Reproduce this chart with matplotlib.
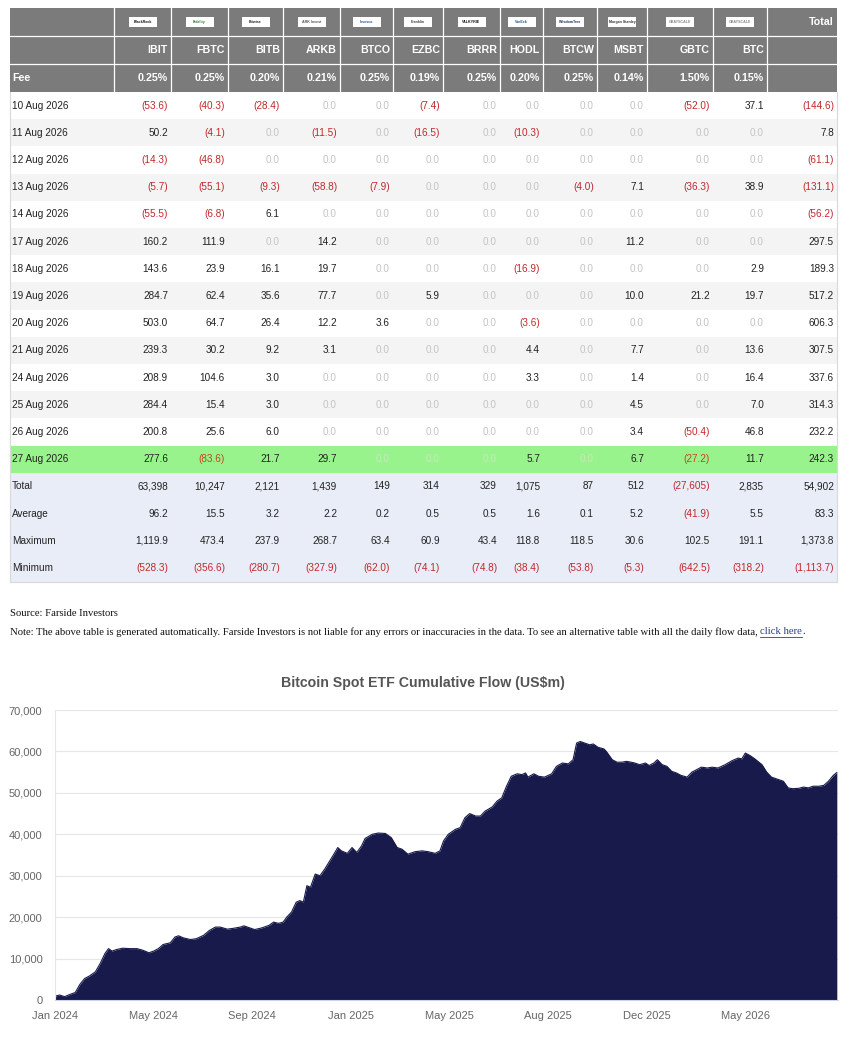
import numpy as np
import matplotlib.pyplot as plt
from matplotlib.patches import Rectangle

plt.rcParams['font.family'] = ['Liberation Sans', 'DejaVu Sans']

# ---- table data ----
tickers = ['IBIT', 'FBTC', 'BITB', 'ARKB', 'BTCO', 'EZBC', 'BRRR',
           'HODL', 'BTCW', 'MSBT', 'GBTC', 'BTC']
issuers = ['BlackRock', 'Fidelity', 'Bitwise', 'ARK Invest', 'Invesco',
           'Franklin', 'VALKYRIE', 'VanEck', 'WisdomTree', 'Morgan Stanley',
           'GRAYSCALE', 'GRAYSCALE']
issuer_colors = ['#111111', '#2a7a3a', '#222222', '#555555', '#2b4fa0',
                 '#444444', '#111111', '#1d4f9a', '#1c2f5a', '#333333',
                 '#888888', '#888888']
fees = ['0.25%', '0.25%', '0.20%', '0.21%', '0.25%', '0.19%', '0.25%',
        '0.20%', '0.25%', '0.14%', '1.50%', '0.15%']

dates = ['10 Aug 2026', '11 Aug 2026', '12 Aug 2026', '13 Aug 2026',
         '14 Aug 2026', '17 Aug 2026', '18 Aug 2026', '19 Aug 2026',
         '20 Aug 2026', '21 Aug 2026', '24 Aug 2026', '25 Aug 2026',
         '26 Aug 2026', '27 Aug 2026']
# one row per date: 12 funds then the total
daily_flows = [
    [-53.6, -40.3, -28.4, 0.0, 0.0, -7.4, 0.0, 0.0, 0.0, 0.0, -52.0, 37.1, -144.6],
    [50.2, -4.1, 0.0, -11.5, 0.0, -16.5, 0.0, -10.3, 0.0, 0.0, 0.0, 0.0, 7.8],
    [-14.3, -46.8, 0.0, 0.0, 0.0, 0.0, 0.0, 0.0, 0.0, 0.0, 0.0, 0.0, -61.1],
    [-5.7, -55.1, -9.3, -58.8, -7.9, 0.0, 0.0, 0.0, -4.0, 7.1, -36.3, 38.9, -131.1],
    [-55.5, -6.8, 6.1, 0.0, 0.0, 0.0, 0.0, 0.0, 0.0, 0.0, 0.0, 0.0, -56.2],
    [160.2, 111.9, 0.0, 14.2, 0.0, 0.0, 0.0, 0.0, 0.0, 11.2, 0.0, 0.0, 297.5],
    [143.6, 23.9, 16.1, 19.7, 0.0, 0.0, 0.0, -16.9, 0.0, 0.0, 0.0, 2.9, 189.3],
    [284.7, 62.4, 35.6, 77.7, 0.0, 5.9, 0.0, 0.0, 0.0, 10.0, 21.2, 19.7, 517.2],
    [503.0, 64.7, 26.4, 12.2, 3.6, 0.0, 0.0, -3.6, 0.0, 0.0, 0.0, 0.0, 606.3],
    [239.3, 30.2, 9.2, 3.1, 0.0, 0.0, 0.0, 4.4, 0.0, 7.7, 0.0, 13.6, 307.5],
    [208.9, 104.6, 3.0, 0.0, 0.0, 0.0, 0.0, 3.3, 0.0, 1.4, 0.0, 16.4, 337.6],
    [284.4, 15.4, 3.0, 0.0, 0.0, 0.0, 0.0, 0.0, 0.0, 4.5, 0.0, 7.0, 314.3],
    [200.8, 25.6, 6.0, 0.0, 0.0, 0.0, 0.0, 0.0, 0.0, 3.4, -50.4, 46.8, 232.2],
    [277.6, -83.6, 21.7, 29.7, 0.0, 0.0, 0.0, 5.7, 0.0, 6.7, -27.2, 11.7, 242.3],
]
highlight_date = '27 Aug 2026'

summary_labels = ['Total', 'Average', 'Maximum', 'Minimum']
summary_decimals = [0, 1, 1, 1]
summary_values = [
    [63398, 10247, 2121, 1439, 149, 314, 329, 1075, 87, 512, -27605, 2835, 54902],
    [96.2, 15.5, 3.2, 2.2, 0.2, 0.5, 0.5, 1.6, 0.1, 5.2, -41.9, 5.5, 83.3],
    [1119.9, 473.4, 237.9, 268.7, 63.4, 60.9, 43.4, 118.8, 118.5, 30.6, 102.5, 191.1, 1373.8],
    [-528.3, -356.6, -280.7, -327.9, -62.0, -74.1, -74.8, -38.4, -53.8, -5.3, -642.5, -318.2, -1113.7],
]

# ---- cumulative flow (trading day index, US$m) ----
cum_day = [0, 1, 4, 8, 13, 17, 21, 25, 29, 34, 38, 42, 45, 48, 52, 57, 63, 69,
           74, 79, 83, 87, 91, 97, 101, 104, 108, 114, 119, 125, 130, 135, 139,
           145, 150, 156, 159, 164, 168, 174, 180, 184, 188, 192, 195, 199, 203,
           206, 209, 212, 215, 219, 223, 227, 233, 238, 241, 246, 250, 254, 258,
           261, 267, 272, 278, 283, 288, 292, 297, 303, 309, 314, 320, 324, 327,
           331, 337, 341, 345, 349, 354, 358, 362, 368, 372, 376, 380, 384, 389,
           393, 396, 398, 403, 407, 412, 418, 422, 427, 432, 436, 439, 442, 446,
           450, 453, 457, 462, 464, 469, 473, 477, 481, 485, 488, 492, 497, 500,
           504, 507, 511, 515, 519, 523, 527, 532, 536, 540, 544, 549, 553, 558,
           564, 570, 575, 578, 581, 585, 589, 595, 599, 603, 609, 613, 617, 621,
           626, 630, 634, 638, 643, 647, 651, 655, 658]
cum_flow = [650, 1000, 1200, 800, 1400, 1800, 3800, 5200, 5800, 6800, 8800, 11200,
            12400, 11800, 12200, 12500, 12400, 12400, 12000, 11400, 11800, 12400,
            13400, 13800, 15200, 15500, 15000, 14600, 14800, 15600, 16800, 17600,
            17600, 17100, 17300, 17600, 17900, 17400, 17000, 17400, 18000, 18800,
            18500, 18800, 20000, 21200, 23600, 24000, 23600, 27600, 27200, 30400,
            30000, 31600, 34400, 36800, 36000, 35400, 36800, 35600, 37200, 39000,
            40000, 40300, 40200, 39200, 36800, 36400, 35200, 35800, 36000, 35800,
            35400, 36000, 38400, 40000, 41200, 41600, 44000, 45000, 44400, 44400,
            45600, 46600, 48000, 48800, 51600, 54000, 54600, 54400, 54800, 53800,
            54600, 54000, 53800, 54600, 56400, 57200, 57000, 58000, 62000, 62400,
            62000, 61600, 61800, 61000, 60600, 60000, 58000, 57400, 57400, 57600,
            57400, 57200, 56800, 57200, 56600, 57200, 58000, 56800, 56400, 55200,
            54800, 54200, 53800, 55000, 55600, 56200, 56000, 56200, 56000, 56800,
            57800, 58400, 58200, 59600, 59000, 58200, 56800, 55000, 53800, 53200,
            52800, 51200, 51000, 51100, 51400, 51200, 51600, 51600, 51800, 52800,
            54200, 54902]
x_tick_labels = ['Jan 2024', 'May 2024', 'Sep 2024', 'Jan 2025', 'May 2025',
                 'Aug 2025', 'Dec 2025', 'May 2026']
label_every = 83  # trading days between x labels


def fmt(v, decimals=1):
    s = f"{abs(v):,.{decimals}f}"
    return f"({s})" if v < 0 else s


fig = plt.figure(figsize=(8.47, 10.38), dpi=100)
tab = fig.add_axes([0, 0, 1, 1])
tab.set_xlim(0, 847)
tab.set_ylim(1038, 0)
tab.axis('off')

col_edges = [10, 114, 171, 228, 283, 340, 393, 443, 500, 543, 597, 647, 713, 767, 837]
head_top, head_h = 8, 28
body_top, row_h = 92, 27.2
fs = 7.2
header_gray = '#7b7b7b'

# header block
tab.add_patch(Rectangle((col_edges[0], head_top), col_edges[-1] - col_edges[0],
                        3 * head_h, color=header_gray, lw=0))
for xe in col_edges[1:-1]:
    tab.plot([xe, xe], [head_top, head_top + 3 * head_h], color='white', lw=0.9)
for k in (1, 2):
    tab.plot([col_edges[0], col_edges[-1]], [head_top + k * head_h] * 2,
             color='white', lw=0.9)

for i, tk in enumerate(tickers):
    left, right = col_edges[i + 1], col_edges[i + 2]
    cx = (left + right) / 2
    # issuer logo box
    tab.add_patch(Rectangle((cx - 14, head_top + 9), 28, 10, color='white', lw=0))
    tab.text(cx, head_top + 14, issuers[i], fontsize=2.6, color=issuer_colors[i],
             ha='center', va='center', fontweight='bold')
    tab.text(right - 3, head_top + 1.5 * head_h, tk, fontsize=7.7, color='white',
             fontweight='bold', ha='right', va='center')
    tab.text(right - 3, head_top + 2.5 * head_h, fees[i], fontsize=7.7,
             color='white', fontweight='bold', ha='right', va='center')
tab.text(col_edges[-1] - 3, head_top + 0.5 * head_h, 'Total', fontsize=7.7,
         color='white', fontweight='bold', ha='right', va='center')
tab.text(col_edges[0] + 2, head_top + 2.5 * head_h, 'Fee', fontsize=7.7,
         color='white', fontweight='bold', ha='left', va='center')

# daily rows
for r, date in enumerate(dates):
    y0 = body_top + r * row_h
    hl = date == highlight_date
    bg = '#99f38c' if hl else ('white' if r % 2 == 0 else '#f4f4f4')
    tab.add_patch(Rectangle((col_edges[0], y0), col_edges[-1] - col_edges[0],
                            row_h, color=bg, lw=0))
    yc = y0 + row_h / 2
    tab.text(col_edges[0] + 2, yc, date, fontsize=fs, color='#222222', va='center')
    for j, v in enumerate(daily_flows[r]):
        right = col_edges[j + 2]
        if v == 0:
            c = '#c6e9bd' if hl else '#c4c4c4'
        elif v < 0:
            c = '#c4461c' if hl else '#c0282d'
        else:
            c = '#222222'
        tab.text(right - 3, yc, fmt(v), fontsize=fs, color=c, ha='right', va='center')

# summary rows
for s, lab in enumerate(summary_labels):
    y0 = body_top + (len(dates) + s) * row_h
    tab.add_patch(Rectangle((col_edges[0], y0), col_edges[-1] - col_edges[0],
                            row_h, color='#e9edf7', lw=0))
    yc = y0 + row_h / 2
    tab.text(col_edges[0] + 2, yc, lab, fontsize=fs, color='#222222', va='center')
    for j, v in enumerate(summary_values[s]):
        right = col_edges[j + 2]
        c = '#c0282d' if v < 0 else '#222222'
        tab.text(right - 3, yc, fmt(v, summary_decimals[s]), fontsize=fs,
                 color=c, ha='right', va='center')

body_bottom = body_top + (len(dates) + len(summary_labels)) * row_h
tab.plot([col_edges[0], col_edges[0], col_edges[-1], col_edges[-1]],
         [body_top, body_bottom, body_bottom, body_top], color='#d9d9d9', lw=0.8)

# source / note
serif = ['Liberation Serif', 'DejaVu Serif']
nfs = 7.65
tab.text(10, 614, 'Source: Farside Investors', family=serif, fontsize=nfs,
         color='#111111', va='center')
note = tab.text(10, 632, 'Note: The above table is generated automatically. Farside '
                'Investors is not liable for any errors or inaccuracies in the data. '
                'To see an alternative table with all the daily flow data,',
                family=serif, fontsize=nfs, color='#111111', va='center')
fig.canvas.draw()
bb = note.get_window_extent().transformed(tab.transData.inverted())
x_link = bb.x1 + 2.7
link = tab.text(x_link, 632, 'click here', family=serif, fontsize=nfs,
                color='#2b3f8c', va='center')
fig.canvas.draw()
lb = link.get_window_extent().transformed(tab.transData.inverted())
tab.plot([lb.x0, lb.x1], [636.5, 636.5], color='#2b3f8c', lw=0.6)
tab.text(lb.x1, 632, '.', family=serif, fontsize=nfs, color='#111111', va='center')

# ---- cumulative flow chart ----
tab.text(423, 683, 'Bitcoin Spot ETF Cumulative Flow (US$m)', fontsize=10.2,
         fontweight='bold', color='#555555', ha='center', va='center')

ax = fig.add_axes([55 / 847, 38 / 1038, 783 / 847, 290 / 1038])
ax.fill_between(cum_day, cum_flow, 0, color='#171a4a', lw=0, zorder=2)
ax.plot(cum_day, cum_flow, color='#171a4a', lw=0.8, zorder=2)
ax.set_xlim(0, 659)
ax.set_ylim(0, 70000)
ax.set_yticks(np.arange(0, 70001, 10000))
ax.set_yticklabels([f"{int(v):,}" for v in np.arange(0, 70001, 10000)])
ax.set_xticks(np.arange(len(x_tick_labels)) * label_every)
ax.set_xticklabels(x_tick_labels)
ax.grid(axis='y', color='#e6e6e6', lw=0.8)
ax.set_axisbelow(True)
for side in ('top', 'right'):
    ax.spines[side].set_visible(False)
ax.spines['left'].set_color('#e6e6e6')
ax.spines['bottom'].set_color('#ccd6eb')
ax.spines['bottom'].set_zorder(3)
ax.tick_params(axis='both', length=0, labelsize=8, labelcolor='#666666')
ax.tick_params(axis='y', pad=9)
ax.tick_params(axis='x', pad=8)

fig.savefig('out.png', dpi=100)
